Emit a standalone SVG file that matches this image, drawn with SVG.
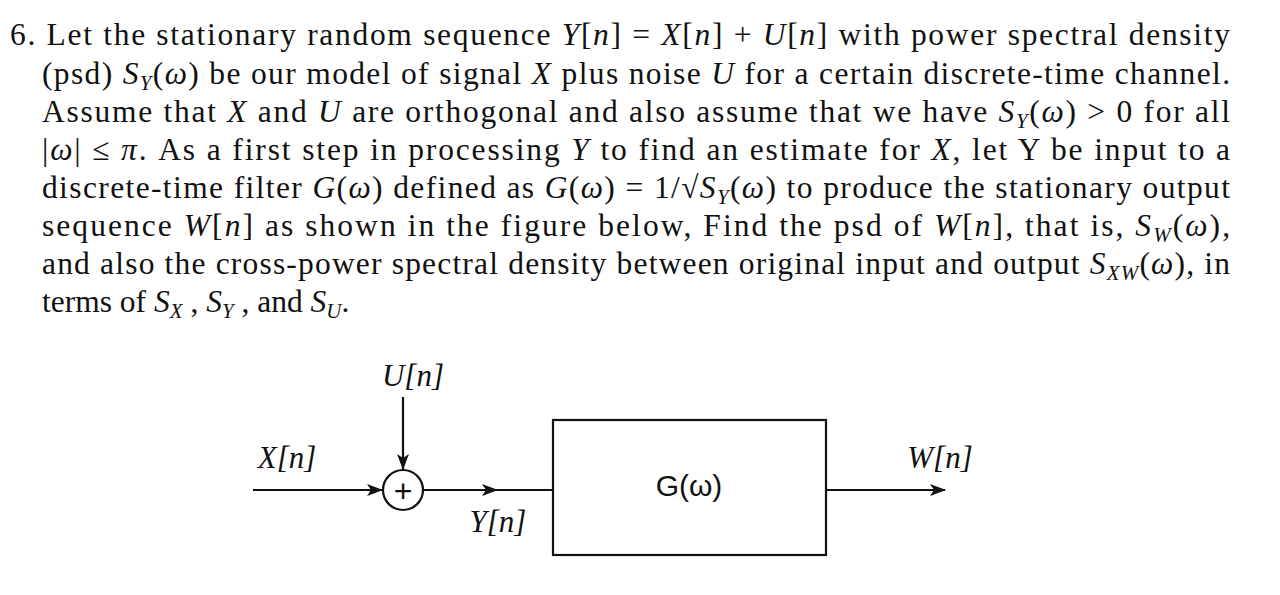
<svg xmlns="http://www.w3.org/2000/svg" width="1280" height="595" viewBox="0 0 1280 595">
<style>
.t{font-family:"Liberation Serif","DejaVu Serif",serif;font-size:31.5px;fill:#111}
.i{font-style:italic}
.s{font-size:21px}
.d{font-family:"Liberation Serif",serif;font-size:31px;font-style:italic;fill:#111}
.ln{stroke:#111;stroke-width:2.2;fill:none}
</style>
<defs><marker id="a" markerWidth="16" markerHeight="12" refX="15" refY="6" orient="auto" markerUnits="userSpaceOnUse"><path d="M0,0 L16,6 L0,12 L4,6 Z" fill="#111"/></marker></defs>
<rect width="1280" height="595" fill="#fff"/>
<g id="problem">
<text class="t" x="10" y="45" textLength="1220" lengthAdjust="spacing">6. Let the stationary random sequence <tspan class="i">Y</tspan>[<tspan class="i">n</tspan>] = <tspan class="i">X</tspan>[<tspan class="i">n</tspan>] + <tspan class="i">U</tspan>[<tspan class="i">n</tspan>] with power spectral density</text>
<text class="t" x="42" y="84" textLength="1188" lengthAdjust="spacing">(psd) <tspan class="i">S</tspan><tspan class="i s" dy="6">Y</tspan><tspan dy="-6">(</tspan><tspan class="i">ω</tspan>) be our model of signal <tspan class="i">X</tspan> plus noise <tspan class="i">U</tspan> for a certain discrete-time channel.</text>
<text class="t" x="42" y="122" textLength="1188" lengthAdjust="spacing">Assume that <tspan class="i">X</tspan> and <tspan class="i">U</tspan> are orthogonal and also assume that we have <tspan class="i">S</tspan><tspan class="i s" dy="6">Y</tspan><tspan dy="-6">(</tspan><tspan class="i">ω</tspan>) &gt; 0 for all</text>
<text class="t" x="42" y="160" textLength="1188" lengthAdjust="spacing">|<tspan class="i">ω</tspan>| ≤ <tspan class="i">π</tspan>. As a first step in processing <tspan class="i">Y</tspan> to find an estimate for <tspan class="i">X</tspan>, let Y be input to a</text>
<text class="t" x="42" y="198" textLength="1188" lengthAdjust="spacing">discrete-time filter <tspan class="i">G</tspan>(<tspan class="i">ω</tspan>) defined as <tspan class="i">G</tspan>(<tspan class="i">ω</tspan>) = 1/√<tspan class="i">S</tspan><tspan class="i s" dy="6">Y</tspan><tspan dy="-6">(</tspan><tspan class="i">ω</tspan>) to produce the stationary output</text>
<text class="t" x="42" y="236" textLength="1188" lengthAdjust="spacing">sequence <tspan class="i">W</tspan>[<tspan class="i">n</tspan>] as shown in the figure below, Find the psd of <tspan class="i">W</tspan>[<tspan class="i">n</tspan>], that is, <tspan class="i">S</tspan><tspan class="i s" dy="6">W</tspan><tspan dy="-6">(</tspan><tspan class="i">ω</tspan>),</text>
<text class="t" x="42" y="274" textLength="1188" lengthAdjust="spacing">and also the cross-power spectral density between original input and output <tspan class="i">S</tspan><tspan class="i s" dy="6">XW</tspan><tspan dy="-6">(</tspan><tspan class="i">ω</tspan>), in</text>
<text class="t" x="42" y="312">terms of <tspan class="i">S</tspan><tspan class="i s" dy="6">X</tspan><tspan dy="-6"> , </tspan><tspan class="i">S</tspan><tspan class="i s" dy="6">Y</tspan><tspan dy="-6"> , and </tspan><tspan class="i">S</tspan><tspan class="i s" dy="6">U</tspan><tspan dy="-6">.</tspan></text>
</g>
<g id="connectors">
<line class="ln" x1="253" y1="490" x2="382" y2="490" marker-end="url(#a)"/>
<line class="ln" x1="403" y1="397" x2="403" y2="469" marker-end="url(#a)"/>
<line class="ln" x1="423" y1="490" x2="497" y2="490" marker-end="url(#a)"/>
<line class="ln" x1="490" y1="490" x2="553" y2="490"/>
<line class="ln" x1="826" y1="490" x2="945" y2="490" marker-end="url(#a)"/>
</g>
<g id="sum">
<circle class="ln" cx="403" cy="490" r="20"/>
<text x="403" y="502" text-anchor="middle" font-family="Liberation Sans,sans-serif" font-size="32" fill="#111">+</text>
</g>
<g id="filter">
<rect class="ln" x="553" y="420" width="273" height="135"/>
<text x="689" y="496" text-anchor="middle" font-family="Liberation Sans,sans-serif" font-size="30" fill="#111">G(ω)</text>
</g>
<g id="labels">
<text class="d" x="413" y="386" text-anchor="middle">U[n]</text>
<text class="d" x="287" y="468" text-anchor="middle">X[n]</text>
<text class="d" x="498" y="532" text-anchor="middle">Y[n]</text>
<text class="d" x="940" y="468" text-anchor="middle">W[n]</text>
</g>
</svg>
